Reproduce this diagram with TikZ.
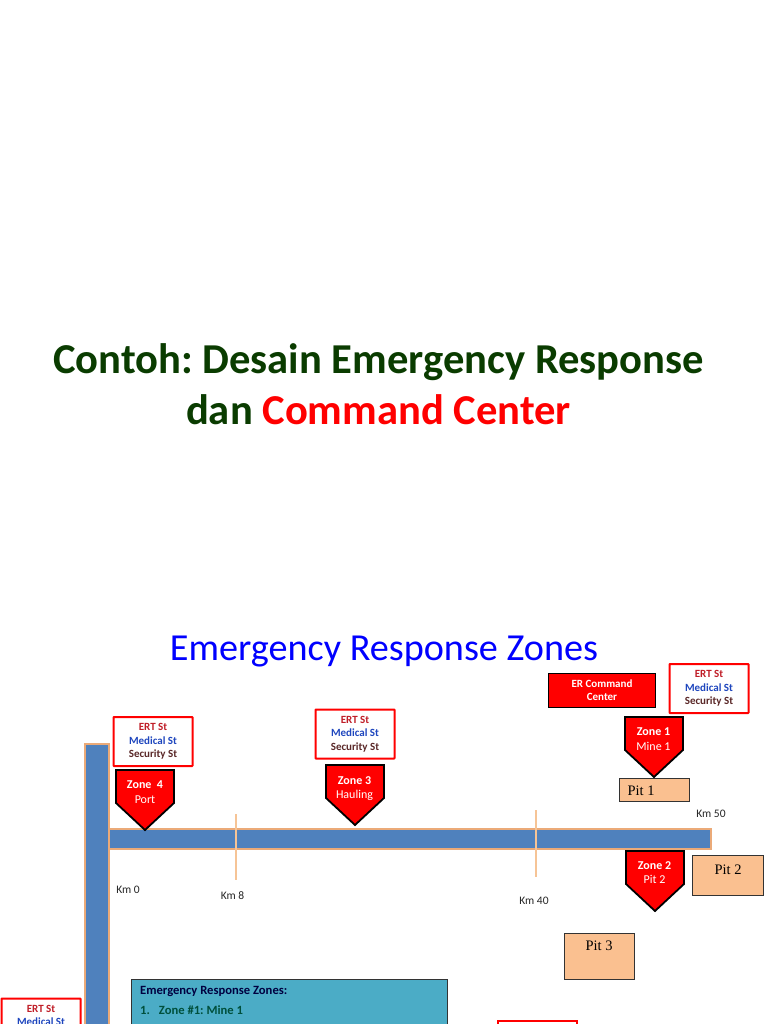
\documentclass[tikz,border=0pt]{standalone}
\usepackage{fontspec}
\setmainfont{Carlito}
\newfontfamily\serifface{Liberation Serif}
\frenchspacing
\definecolor{roadblue}{RGB}{79,129,189}
\definecolor{roadedge}{RGB}{235,170,120}
\definecolor{tickedge}{RGB}{246,196,150}
\definecolor{pitfill}{RGB}{250,192,144}
\definecolor{darkgreen}{RGB}{10,60,0}
\definecolor{ertred}{RGB}{192,30,40}
\definecolor{medblue}{RGB}{30,70,190}
\definecolor{secbrown}{RGB}{90,40,40}
\definecolor{infofill}{RGB}{75,172,198}
\definecolor{infotext}{RGB}{0,80,60}
\tikzset{
 x=1pt,y=-1pt,
 road/.style={fill=roadblue,draw=roadedge,line width=1.5pt},
 tickline/.style={draw=tickedge,line width=2pt},
 ertbox/.style={draw=red,fill=white,line width=2pt,rounded corners=0.5pt,minimum width=79pt,minimum height=49pt,inner sep=0pt,align=center,font=\bfseries\fontsize{11}{13.4}\selectfont},
 pitbox/.style={draw=black!80,fill=pitfill,line width=0.8pt,inner sep=0pt},
 pittext/.style={font=\serifface\fontsize{14.5}{16}\selectfont,text=black,inner sep=0pt},
 zone/.style={draw=black,fill=red,line width=1.8pt,line join=miter},
 zonetext/.style={text=white,align=center,font=\fontsize{12}{14.6}\selectfont,inner sep=0pt},
 kmtext/.style={font=\fontsize{11.5}{13}\selectfont,text=black!85,inner sep=0pt},
}
\newcommand{\ertlines}{\textcolor{ertred}{ERT St}\\\textcolor{medblue}{Medical St}\\\textcolor{secbrown}{Security St}}
\newcommand{\zoneshape}[2]{\draw[zone] (#1-29,#2) -- (#1+29,#2) -- (#1+29,#2+33) -- (#1,#2+60) -- (#1-29,#2+33) -- cycle;}
\begin{document}
\begin{tikzpicture}
\useasboundingbox (0,0) rectangle (768,1024);
\fill[white] (0,0) rectangle (768,1024);
% title
\node[inner sep=0pt,align=center,font=\bfseries\fontsize{42.6}{51}\selectfont,text=darkgreen] (title) at (378.5,384.5) {Contoh: Desain Emergency Response\\dan \textcolor{red}{Command Center}};
\node[inner sep=0pt,font=\fontsize{38.2}{42}\selectfont,text=blue] (subtitle) at (384,652) {Emergency Response Zones};
% roads
\begin{scope}
\clip (0,0) rectangle (768,1024);
\draw[road] (85,744) rectangle (109,1040);
\end{scope}
\draw[road] (109,829) rectangle (711,849);
\draw[tickline] (235.5,814) -- (235.5,880);
\draw[tickline] (535.5,810) -- (535.5,877);
% km
\node[kmtext] (km0) at (128,889.5) {Km 0};
\node[kmtext] (km8) at (232.5,895.5) {Km 8};
\node[kmtext] (km40) at (534,900.5) {Km 40};
\node[kmtext] (km50) at (711,813.5) {Km 50};
% command center
\node[draw=black,fill=red,line width=0.8pt,minimum width=107pt,minimum height=34pt,inner sep=0pt,align=center,text=white,font=\bfseries\fontsize{11}{13}\selectfont] (cc) at (602,690.5) {ER Command\\Center};
% ert boxes
\node[ertbox] (ert1) at (709,688.5) {\ertlines};
\node[ertbox] (ert4) at (153,741.5) {\ertlines};
\node[ertbox] (ert3) at (355,734) {\ertlines};
% pits
\node[pitbox,minimum width=70pt,minimum height=23pt] (pit1) at (654.5,790) {};
\node[pittext] (pit1t) at (641,790.5) {Pit 1};
\node[pitbox,minimum width=71pt,minimum height=40pt] (pit2) at (728,875.5) {};
\node[pittext] (pit2t) at (728,869.5) {Pit 2};
\node[pitbox,minimum width=70pt,minimum height=46pt] (pit3) at (599,956) {};
\node[pittext] (pit3t) at (599,946) {Pit 3};
% zones
\zoneshape{654}{717}
\node[zonetext] (z1) at (653.5,739) {\textbf{Zone 1}\\Mine 1};
\zoneshape{655}{851}
\node[zonetext] (z2) at (654.5,872.5) {\textbf{Zone 2}\\Pit 2};
\zoneshape{355}{765}
\node[zonetext] (z3) at (354.5,788.5) {\textbf{Zone 3}\\Hauling};
\zoneshape{145}{770}
\node[zonetext] (z4) at (145,792) {\textbf{Zone\ \ 4}\\Port};
% bottom left ert
\begin{scope}
\clip (0,0) rectangle (768,1024);
\node[ertbox] (ertb) at (41,1023) {\ertlines};
\node[draw=red,fill=white,line width=2pt,minimum width=79pt,minimum height=49pt,inner sep=0pt] (ertr) at (537,1045) {};
\node[draw=black!80,fill=infofill,line width=1pt,minimum width=316pt,minimum height=80pt,inner sep=0pt] (info) at (289.5,1019.5) {};
\end{scope}
\node[anchor=west,inner sep=0pt,font=\bfseries\fontsize{12.6}{14}\selectfont,text=black!75!blue] (i0) at (140,991) {Emergency Response Zones:};
\node[anchor=west,inner sep=0pt,font=\bfseries\fontsize{12.6}{14}\selectfont,text=infotext] (i1) at (140,1010) {1.\hspace{9pt}Zone \#1: Mine 1};
\end{tikzpicture}
\end{document}
